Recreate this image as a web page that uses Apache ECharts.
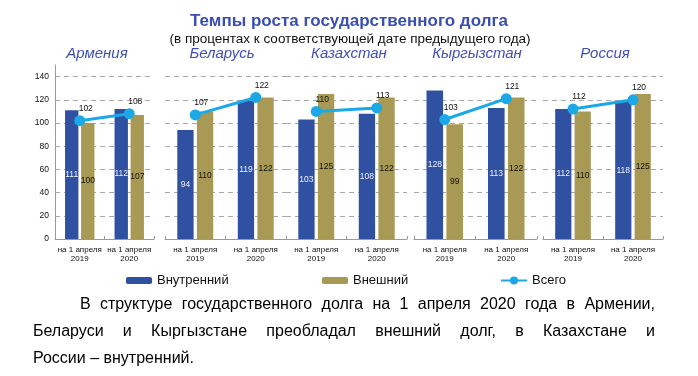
<!DOCTYPE html>
<html>
<head>
<meta charset="utf-8">
<script src="https://cdn.jsdelivr.net/npm/echarts@6/dist/echarts.min.js"></script>
<style>
  html, body { margin: 0; padding: 0; background: #fff; }
  #chart { width: 698px; height: 376px; }
</style>
</head>
<body>
<div id="chart"></div>
<script>
const countries = ['Армения', 'Беларусь', 'Казахстан', 'Кыргызстан', 'Россия'];
const periods = ['на 1 апреля\n2019', 'на 1 апреля\n2020'];
const internalDebt = [[111, 112], [94, 119], [103, 108], [128, 113], [112, 118]];
const externalDebt = [[100, 107], [110, 122], [125, 122], [99, 122], [110, 125]];
const totalDebt = [[102, 108], [107, 122], [110, 113], [103, 121], [112, 120]];
const yTicks = [0, 20, 40, 60, 80, 100, 120, 140];

const paragraph = [
  'В структуре государственного долга на 1 апреля 2020 года в Армении,',
  'Беларуси и Кыргызстане преобладал внешний долг, в Казахстане и',
  'России – внутренний.'
];

// panel placement (px)
const panels = [
  { left: 55, width: 99 },
  { left: 165, width: 121 },
  { left: 286, width: 121 },
  { left: 414, width: 123 },
  { left: 543, width: 120 }
];
const plotTop = 65;
const plotHeight = 174;

const BLUE = '#3050a2';
const OLIVE = '#a89a55';
const SKY = '#1ba8e6';
const FONT = '"Liberation Sans", Arial, sans-serif';

const chart = echarts.init(document.getElementById('chart'));

const grid = panels.map(p => ({ left: p.left, width: p.width, top: plotTop, height: plotHeight }));

const xAxis = panels.map((p, i) => ({
  type: 'category',
  gridIndex: i,
  data: periods,
  axisLine: { lineStyle: { color: '#9a9a9a', width: 1 } },
  axisTick: { show: true, inside: true, length: 3, lineStyle: { color: '#9a9a9a' } },
  axisLabel: { interval: 0, fontSize: 8, lineHeight: 9.5, color: '#111', fontFamily: FONT, margin: 6 }
}));

const yAxis = panels.map((p, i) => ({
  type: 'value',
  gridIndex: i,
  min: yTicks[0],
  max: 150,
  interval: 20,
  axisLine: { show: i === 0, lineStyle: { color: '#9a9a9a' } },
  axisTick: { show: false },
  axisLabel: { show: i === 0, showMaxLabel: false, fontSize: 8.5, color: '#111', fontFamily: FONT, margin: 6 },
  splitLine: {
    show: true,
    showMinLine: false,
    showMaxLine: false,
    lineStyle: { color: '#a8a8a8', type: [5, 4], width: 1 }
  }
}));

const series = [];
countries.forEach((c, i) => {
  series.push({
    name: 'Внутренний',
    type: 'bar',
    xAxisIndex: i,
    yAxisIndex: i,
    data: internalDebt[i],
    barWidth: '27%',
    barGap: '20%',
    itemStyle: { color: BLUE },
    label: { show: true, position: 'inside', color: '#eef0fa', fontSize: 8.5, fontFamily: FONT }
  });
  series.push({
    name: 'Внешний',
    type: 'bar',
    xAxisIndex: i,
    yAxisIndex: i,
    data: externalDebt[i],
    barWidth: '27%',
    barGap: '20%',
    itemStyle: { color: OLIVE },
    label: { show: true, position: 'inside', color: '#111', fontSize: 8.5, fontFamily: FONT }
  });
  series.push({
    name: 'Всего',
    type: 'line',
    xAxisIndex: i,
    yAxisIndex: i,
    data: totalDebt[i],
    z: 5,
    symbol: 'circle',
    symbolSize: 11,
    lineStyle: { color: SKY, width: 3 },
    itemStyle: { color: SKY },
    label: { show: true, position: 'top', distance: 2, offset: [6, 0], color: '#111', fontSize: 8.5, fontFamily: FONT }
  });
});

const titles = [
  {
    text: 'Темпы роста государственного долга',
    left: 344, top: 8, textAlign: 'center',
    textStyle: { fontSize: 17, fontWeight: 'bold', color: '#3a4fb0', fontFamily: FONT }
  },
  {
    text: '(в процентах к соответствующей дате предыдущего года)',
    left: 345, top: 27, textAlign: 'center',
    textStyle: { fontSize: 13.5, fontWeight: 'normal', color: '#111', fontFamily: FONT }
  }
];
const nameCenters = [92, 217, 344, 472, 600];
countries.forEach((c, i) => {
  titles.push({
    text: c,
    left: nameCenters[i], top: 41, textAlign: 'center',
    textStyle: { fontSize: 15, fontWeight: 'normal', fontStyle: 'italic', color: '#3f4fb5', fontFamily: FONT }
  });
});

const legendText = { fontSize: 13, color: '#111', fontFamily: FONT };
const legend = [
  { data: ['Внутренний'], left: 121, top: 269, itemWidth: 26, itemHeight: 7, textStyle: legendText },
  { data: ['Внешний'], left: 317, top: 269, itemWidth: 26, itemHeight: 7, textStyle: legendText },
  { data: ['Всего'], left: 495, top: 269, itemWidth: 26, itemHeight: 10, textStyle: legendText }
];

// justified paragraph under the chart
const measure = document.createElement('canvas').getContext('2d');
const pFont = '16px ' + FONT;
measure.font = pFont;
const lineStarts = [80, 33, 33];
const lineRight = 655;
const lineY = [305, 332, 359];
const graphic = [];
paragraph.forEach((line, li) => {
  const words = line.split(' ');
  const justify = li < paragraph.length - 1;
  const widths = words.map(w => measure.measureText(w).width);
  const total = widths.reduce((a, b) => a + b, 0);
  const space = justify
    ? (lineRight - lineStarts[li] - total) / (words.length - 1)
    : measure.measureText(' ').width;
  let x = lineStarts[li];
  words.forEach((w, wi) => {
    graphic.push({
      type: 'text',
      x: x,
      y: lineY[li],
      style: { text: w, font: pFont, fill: '#000', verticalAlign: 'middle' }
    });
    x += widths[wi] + space;
  });
});

chart.setOption({
  animation: false,
  backgroundColor: '#fff',
  title: titles,
  legend: legend,
  grid: grid,
  xAxis: xAxis,
  yAxis: yAxis,
  series: series,
  graphic: graphic
});
</script>
</body>
</html>
